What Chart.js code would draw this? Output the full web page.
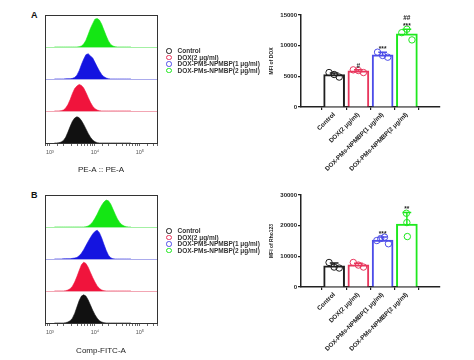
<!DOCTYPE html>
<html lang="en">
<head>
<meta charset="UTF-8">
<title>DOX / Rho123 uptake</title>
<script src="https://cdn.jsdelivr.net/npm/chart.js"></script>
<style>
  body { margin: 0; background: #fff; font-family: "Liberation Sans", Arial, sans-serif; }
  #fig { position: relative; width: 474px; height: 360px; overflow: hidden; }
  canvas { position: absolute; }
  .tag { position: absolute; font-weight: bold; font-size: 9px; color: #111; }
  .leg { position: absolute; left: 166px; font-weight: bold; font-size: 6.5px; color: #333; line-height: 6.5px; will-change: transform; }
  .leg div { white-space: nowrap; height: 6.5px; }
  .leg span { display: inline-block; width: 3.5px; height: 3.5px; border: 1px solid; border-radius: 50%; margin-right: 6px; vertical-align: -0.5px; }
</style>
</head>
<body>
<div id="fig">
  <div class="tag" style="left:31px; top:10px">A</div>
  <div class="tag" style="left:31px; top:190px">B</div>
  <div class="leg" id="legA" style="top:47.5px"></div>
  <div class="leg" id="legB" style="top:227.5px"></div>
  <canvas id="histA" width="145" height="175" style="left:20px; top:5px"></canvas>
  <canvas id="histB" width="145" height="175" style="left:20px; top:185px"></canvas>
  <canvas id="barA" width="205" height="175" style="left:265px; top:5px"></canvas>
  <canvas id="barB" width="205" height="175" style="left:265px; top:185px"></canvas>
</div>
<script>
  // groups (bottom to top in the histograms, left to right in the bars)
  const groups = ['Control', 'DOX(2 μg/ml)', 'DOX-PMs-NPMBP(1 μg/ml)', 'DOX-PMs-NPMBP(2 μg/ml)'];
  const groupColors = ['#1e1e1e', '#e8365d', '#4d4de8', '#1ee81e'];
  const histColors = ['#111111', '#f0143c', '#1414e0', '#14e614'];
  const baseColors = ['rgba(0,0,0,0)', '#f2a6b3', '#ababec', '#a3f0a3'];

  // histogram bins (log10 of fluorescence)
  const histBins = [3.10, 3.15, 3.20, 3.25, 3.30, 3.35, 3.40, 3.45, 3.50, 3.55, 3.60, 3.65,
    3.70, 3.75, 3.80, 3.85, 3.90, 3.95, 4.00, 4.05, 4.10, 4.15, 4.20, 4.25, 4.30, 4.35,
    4.40, 4.45, 4.50, 4.55, 4.60, 4.65, 4.70, 4.75, 4.80];

  // panel A histograms (PE-A)
  const histA_control = [0, 0, 0.01, 0.03, 0.08, 0.18, 0.34, 0.52, 0.68, 0.78, 0.82, 0.79,
    0.70, 0.58, 0.44, 0.30, 0.18, 0.09, 0.04, 0.01, 0, 0, 0, 0, 0, 0, 0, 0, 0, 0, 0, 0, 0, 0, 0];
  const histA_dox = [0, 0, 0, 0.01, 0.03, 0.09, 0.20, 0.36, 0.55, 0.70, 0.78, 0.83,
    0.80, 0.72, 0.58, 0.42, 0.27, 0.15, 0.07, 0.03, 0.01, 0, 0, 0, 0, 0, 0, 0, 0, 0, 0, 0, 0, 0, 0];
  const histA_pm1 = [0, 0, 0, 0, 0, 0.005, 0.01, 0.01, 0.02, 0.05, 0.12, 0.26,
    0.45, 0.62, 0.76, 0.79, 0.72, 0.66, 0.52, 0.38, 0.25, 0.14, 0.07, 0.03, 0.01, 0, 0, 0, 0, 0, 0, 0, 0, 0, 0];
  const histA_pm2 = [0, 0, 0, 0, 0, 0, 0, 0, 0, 0, 0, 0.01,
    0.03, 0.09, 0.21, 0.39, 0.58, 0.73, 0.87, 0.89, 0.84, 0.71, 0.53, 0.35, 0.19, 0.08, 0.03, 0.01, 0, 0, 0, 0, 0, 0, 0];

  // panel B histograms (Comp-FITC-A)
  const histB_control = [0, 0, 0, 0, 0, 0.01, 0.03, 0.07, 0.15, 0.30, 0.50, 0.70,
    0.84, 0.88, 0.84, 0.72, 0.56, 0.40, 0.26, 0.15, 0.07, 0.03, 0.01, 0, 0, 0, 0, 0, 0, 0, 0, 0, 0, 0, 0];
  const histB_dox = [0, 0, 0, 0, 0, 0.01, 0.03, 0.07, 0.15, 0.28, 0.45, 0.64,
    0.82, 0.90, 0.86, 0.74, 0.58, 0.42, 0.28, 0.16, 0.08, 0.03, 0.01, 0, 0, 0, 0, 0, 0, 0, 0, 0, 0, 0, 0];
  const histB_pm1 = [0, 0, 0, 0, 0.005, 0.01, 0.01, 0.01, 0.02, 0.03, 0.05, 0.10,
    0.18, 0.29, 0.42, 0.55, 0.67, 0.78, 0.86, 0.90, 0.82, 0.66, 0.46, 0.27, 0.12, 0.04, 0.01, 0, 0, 0, 0, 0, 0, 0, 0];
  const histB_pm2 = [0, 0, 0, 0, 0, 0, 0, 0, 0, 0, 0, 0,
    0, 0, 0.01, 0.03, 0.08, 0.16, 0.27, 0.40, 0.55, 0.68, 0.78, 0.84, 0.82, 0.72, 0.56, 0.40, 0.25, 0.14, 0.07, 0.03, 0.01, 0, 0];

  // bar panels: MFI values
  const doxTicks = [0, 5000, 10000, 15000];
  const doxMean = [5270, 5880, 8490, 11910];
  const doxSd = [280, 200, 420, 770];
  const doxPoints = [[5620, 5300, 4880], [6060, 5950, 5620], [8940, 8400, 8120], [12120, 12680, 10940]];
  const doxSig = [[], ['#'], ['***'], ['***', '##']];

  const rhoTicks = [0, 10000, 20000, 30000];
  const rhoMean = [6900, 7220, 15330, 20500];
  const rhoSd = [900, 500, 950, 3800];
  const rhoPoints = [[8000, 6500, 6180], [8000, 7150, 6500], [15150, 15800, 16250, 14100], [24050, 21000, 16450]];
  const rhoSig = [[], [], ['***'], ['**']];

  const FONT = '"Liberation Sans", Arial, sans-serif';
  const supDigits = { 3: '³', 4: '⁴', 5: '⁵' };

  // legends
  for (const id of ['legA', 'legB']) {
    document.getElementById(id).innerHTML = groups.map((g, i) =>
      `<div><span style="border-color:${groupColors[i]}"></span>${g}</div>`).join('');
  }

  const frame = {
    id: 'frame',
    afterDraw(chart) {
      const a = chart.chartArea, c = chart.ctx;
      c.save();
      c.strokeStyle = '#333';
      c.lineWidth = 1;
      c.strokeRect(Math.round(a.left) + 0.5, Math.round(a.top) + 0.5, Math.round(a.right - a.left), Math.round(a.bottom - a.top));
      c.restore();
    }
  };

  function makeHist(id, series, axisTitle, titlePad) {
    const scales = {
      x: {
        type: 'logarithmic', position: 'bottom', min: 776, max: 240000,
        grid: { drawOnChartArea: false, drawTicks: true, tickLength: 3, color: '#444', lineWidth: 0.8 },
        border: { color: '#333', width: 1 },
        ticks: {
          autoSkip: false, maxRotation: 0, padding: 3, color: '#555',
          font: { family: FONT, size: 5.5 },
          callback: v => {
            const e = Math.log10(v);
            return Math.abs(e - Math.round(e)) < 1e-9 ? '10' + supDigits[Math.round(e)] : '';
          }
        },
        title: { display: true, text: axisTitle, color: '#222', font: { family: FONT, size: 8 }, padding: { top: 0, bottom: titlePad } },
        afterFit: s => { s.height = 37; s.paddingLeft = 0; s.paddingRight = 0; }
      }
    };
    const datasets = [];
    series.forEach((vals, k) => {
      const yid = 'y' + k;
      scales[yid] = {
        type: 'linear', position: 'left', stack: 'rows', stackWeight: 1, offset: false,
        min: 0, max: 1,
        ticks: { display: false, stepSize: 0.5 },
        grid: { drawTicks: false, color: ctx => ctx.tick.value === 0 ? baseColors[k] : 'rgba(0,0,0,0)', lineWidth: 1 },
        border: { display: true, color: '#333', width: 1 },
        afterFit: s => { s.width = 0; }
      };
      datasets.push({
        data: histBins.map((e, i) => ({ x: Math.pow(10, e), y: vals[i] })),
        yAxisID: yid, fill: 'origin', tension: 0, pointRadius: 0,
        borderColor: histColors[k], backgroundColor: histColors[k], borderWidth: 0.6
      });
    });
    new Chart(document.getElementById(id), {
      type: 'line',
      data: { datasets },
      options: {
        responsive: false, animation: false,
        layout: { padding: { left: 25, right: 8, top: 10, bottom: 0 } },
        plugins: { legend: { display: false }, tooltip: { enabled: false } },
        scales
      },
      plugins: [frame]
    });
  }

  function makeBar(id, means, sds, points, sig, ticks, axisTitle, spreads) {
    const cap = 0.18;
    const datasets = [{
      type: 'bar', order: 3,
      data: means.map((m, i) => ({ x: i, y: m })),
      barThickness: 21, borderWidth: 2,
      borderColor: groupColors, backgroundColor: '#fff'
    }];
    means.forEach((m, i) => {
      const top = m + sds[i];
      datasets.push({
        type: 'line', order: 2, spanGaps: false, pointRadius: 0, borderWidth: 1.5,
        borderColor: groupColors[i],
        data: [{ x: i, y: m }, { x: i, y: top }, { x: i, y: null }, { x: i - cap, y: top }, { x: i + cap, y: top }]
      });
      const n = points[i].length;
      datasets.push({
        type: 'scatter', order: 1,
        data: points[i].map((v, j) => ({ x: i + (j - (n - 1) / 2) * spreads[i], y: v })),
        pointRadius: 3.2, pointBorderWidth: 1,
        pointBorderColor: groupColors[i], pointBackgroundColor: 'rgba(255,255,255,0)'
      });
    });
    const sigPlugin = {
      id: 'sig',
      afterDatasetsDraw(chart) {
        const c = chart.ctx, xs = chart.scales.x, ys = chart.scales.y;
        c.save();
        c.fillStyle = '#222';
        c.font = 'bold 6.5px ' + FONT;
        c.textAlign = 'center';
        c.textBaseline = 'alphabetic';
        sig.forEach((labels, i) => {
          let y = ys.getPixelForValue(means[i] + sds[i]) - 1.5;
          labels.forEach(t => {
            c.fillText(t, xs.getPixelForValue(i), y);
            y -= 8;
          });
        });
        c.restore();
      }
    };
    new Chart(document.getElementById(id), {
      data: { datasets },
      options: {
        responsive: false, animation: false,
        layout: { padding: { left: 4, right: 30, top: 10, bottom: 0 } },
        plugins: { legend: { display: false }, tooltip: { enabled: false } },
        scales: {
          x: {
            type: 'linear', min: -0.65, max: 3.65,
            grid: { drawOnChartArea: false, drawTicks: true, tickLength: 3, color: '#222', lineWidth: 1.2 },
            border: { color: '#222', width: 1.5 },
            ticks: {
              stepSize: 1, includeBounds: false, autoSkip: false,
              minRotation: 45, maxRotation: 45, padding: 1, color: '#222',
              font: { family: FONT, size: 6.3, weight: 'bold' },
              callback: v => Number.isInteger(v) ? groups[v] : ''
            },
            afterFit: s => { s.height = 73; s.paddingLeft = 0; s.paddingRight = 0; }
          },
          y: {
            min: ticks[0], max: ticks[ticks.length - 1],
            grid: { drawOnChartArea: false, drawTicks: true, tickLength: 3, color: '#222', lineWidth: 1.2 },
            border: { color: '#222', width: 1.5 },
            ticks: {
              stepSize: ticks[1] - ticks[0], padding: 1, color: '#222',
              font: { family: FONT, size: 6, weight: 'bold' },
              callback: v => String(v)
            },
            title: { display: true, text: axisTitle, color: '#222', font: { family: FONT, size: 5, weight: 'bold' }, padding: { top: 0, bottom: 0 } },
            afterFit: s => { s.width = 32; }
          }
        }
      },
      plugins: [sigPlugin]
    });
  }

  makeHist('histA', [histA_control, histA_dox, histA_pm1, histA_pm2], 'PE-A :: PE-A', 5);
  makeHist('histB', [histB_control, histB_dox, histB_pm1, histB_pm2], 'Comp-FITC-A', 4);
  makeBar('barA', doxMean, doxSd, doxPoints, doxSig, doxTicks, 'MFI of DOX', [0.21, 0.21, 0.21, 0.21]);
  makeBar('barB', rhoMean, rhoSd, rhoPoints, rhoSig, rhoTicks, 'MFI of Rho123', [0.21, 0.21, 0.16, 0.02]);
</script>
</body>
</html>
